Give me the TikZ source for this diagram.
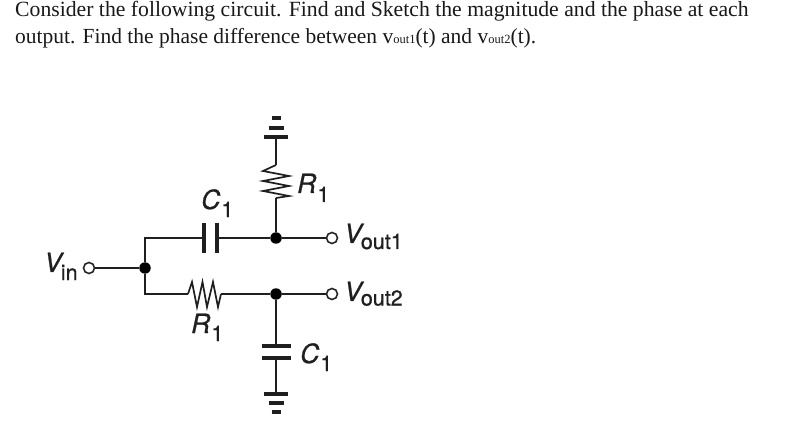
\documentclass[tikz,border=0pt]{standalone}
\usepackage{fontspec}
\setmainfont{TeX Gyre Heros}
\newfontfamily\bookfont{Liberation Serif}
\newfontfamily\labfont[FakeBold=0.8]{TeX Gyre Heros}
\usetikzlibrary{calc}
\tikzset{
  x=1pt,y=1pt,
  wire/.style={line width=2.2pt,draw=black!88},
  plate/.style={line width=4pt,draw=black!88},
  zig/.style={line width=1.7pt,draw=black!88,line join=miter},
  junction/.style={circle,fill=black,inner sep=0pt,minimum size=11.5pt},
  port/.style={circle,draw=black!85,line width=1.6pt,fill=white,inner sep=0pt,minimum size=11pt},
  lab/.style={inner sep=0pt,anchor=base west,font=\labfont\fontsize{26.5}{26.5}\selectfont\itshape,text=black!88},
  body/.style={inner sep=0pt,anchor=base west,font=\bookfont\fontsize{21.7}{21.7}\selectfont,text=black!90}
}
\newcommand{\sbs}[2]{\raisebox{#1}{\fontsize{21.5}{21.5}\selectfont\upshape #2}}
\begin{document}
\begin{tikzpicture}
\useasboundingbox (0,0) rectangle (800,426);
\node[body] (line1) at (15,409) {Consider the following circuit. Find and Sketch the magnitude and the phase at each};
\node[body,font=\bookfont\fontsize{21.5}{21.5}\selectfont] (line2) at (15,382) {output. Find the phase difference between v{\fontsize{12.5}{12.5}\selectfont out1}(t) and v{\fontsize{12.5}{12.5}\selectfont out2}(t).};
% junctions and ports
\node[junction] (jin) at (145,158) {};
\node[port] (pin) at (89,158) {};
\node[junction] (jtop) at (276,188) {};
\node[port] (pout1) at (332,188) {};
\node[junction] (jbot) at (276,132) {};
\node[port] (pout2) at (332,132) {};
\coordinate (ctop) at (145,188);
\coordinate (cbot) at (145,132);
\coordinate (capL) at (204,188);
\coordinate (capR) at (217,188);
\coordinate (rbL) at (188,132);
\coordinate (rbR) at (221,132);
\coordinate (rtT) at (276,261);
\coordinate (rtB) at (276,228);
\coordinate (gndT) at (276,289);
\coordinate (capU) at (276,80);
\coordinate (capD) at (276,68);
\coordinate (gndB) at (276,32);
% wires
\draw[wire] (pin) -- (jin);
\draw[wire] (jin) -- (ctop) -- (capL);
\draw[wire] (jin) -- (cbot) -- (rbL);
\draw[wire] (capR) -- (jtop);
\draw[wire] (jtop) -- (pout1);
\draw[wire] (rbR) -- (jbot);
\draw[wire] (jbot) -- (pout2);
\draw[wire] (jtop) -- (rtB);
\draw[wire] (rtT) -- (gndT);
\draw[wire] (jbot) -- (capU);
\draw[wire] (capD) -- (gndB);
% horizontal capacitor
\draw[plate] ($(capL)+(0,-15)$) -- ($(capL)+(0,15)$);
\draw[plate] ($(capR)+(0,-15)$) -- ($(capR)+(0,15)$);
% vertical capacitor
\draw[plate] ($(capU)+(-14.5,0)$) -- ($(capU)+(14.5,0)$);
\draw[plate] ($(capD)+(-14.5,0)$) -- ($(capD)+(14.5,0)$);
% horizontal resistor
\draw[zig] (rbL) -- ++(4,12) -- ++(5,-25) -- ++(5.5,25) -- ++(4.5,-25) -- ++(6,25) -- ++(5,-25) -- (rbR);
% vertical resistor
\draw[zig] (rtT) -- ++(-13,-6) -- ++(26,-5) -- ++(-26,-5) -- ++(26,-5) -- ++(-26,-5) -- ++(26,-5) -- (rtB);
% grounds
\draw[plate] ($(gndT)+(-12,0)$) -- ($(gndT)+(12,0)$);
\draw[plate] ($(gndT)+(-7.5,9)$) -- ($(gndT)+(7.5,9)$);
\draw[plate] ($(gndT)+(-4.5,19)$) -- ($(gndT)+(4.5,19)$);
\draw[plate] ($(gndB)+(-12,0)$) -- ($(gndB)+(12,0)$);
\draw[plate] ($(gndB)+(-7.5,-9)$) -- ($(gndB)+(7.5,-9)$);
\draw[plate] ($(gndB)+(-4.5,-18)$) -- ($(gndB)+(4.5,-18)$);
% labels
\node[lab] (lvin) at (44,154) {V\kern-1pt\sbs{-8pt}{in}};
\node[lab] (lc1a) at (201,217) {C\kern1pt\sbs{-8pt}{1}};
\node[lab] (lr1a) at (297,233) {R\kern1pt\sbs{-9pt}{1}};
\node[lab] (lvo1) at (344,183) {V\kern-1pt\sbs{-6pt}{out1}};
\node[lab] (lvo2) at (344,125) {V\kern-1pt\sbs{-4.5pt}{out2}};
\node[lab] (lr1b) at (191,93) {R\kern1pt\sbs{-8pt}{1}};
\node[lab] (lc1b) at (300,63) {C\kern1pt\sbs{-8pt}{1}};
\end{tikzpicture}
\end{document}
